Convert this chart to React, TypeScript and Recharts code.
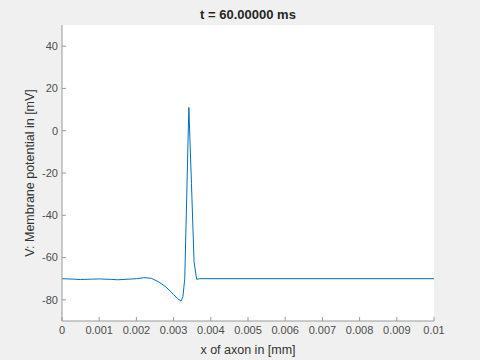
import { CartesianGrid, Line, LineChart, XAxis, YAxis } from "recharts";

// membrane potential along the axon at t = 60 ms
const xPos = [
  0, 0.0003, 0.0005, 0.0008, 0.001, 0.0013, 0.0015, 0.0018, 0.002, 0.0022,
  0.0024, 0.0026, 0.0028, 0.003, 0.0031, 0.0032, 0.00325, 0.0033, 0.00341,
  0.00348, 0.00355, 0.00362, 0.0037, 0.005, 0.0075, 0.01,
];
const vVals = [
  -70, -70.2, -70.4, -70.2, -70.1, -70.3, -70.5, -70.2, -70, -69.5,
  -69.8, -71.5, -74, -77.5, -79.3, -80.6, -78.5, -70, 11,
  -25, -62, -70.3, -70, -70, -70, -70,
];
const xTicks = [0, 0.001, 0.002, 0.003, 0.004, 0.005, 0.006, 0.007, 0.008, 0.009, 0.01];
const yTicks = [-80, -60, -40, -20, 0, 20, 40];

const data = xPos.map((x, i) => ({ x, v: vVals[i] }));

const font = '"Liberation Sans", Arial, sans-serif';
const tickStyle = { fontSize: 11, fill: "#4d4d4d", fontFamily: font };
const axisColor = "#999";

export default function App() {
  return (
    <div
      style={{
        position: "fixed",
        left: 0,
        top: 0,
        width: 480,
        height: 360,
        background: "#f0f0f0",
        fontFamily: font,
      }}
    >
      <div
        style={{
          position: "absolute",
          left: 62,
          width: 372,
          top: 7,
          textAlign: "center",
          fontSize: 13,
          fontWeight: "bold",
          color: "#262626",
        }}
      >
        t = 60.00000 ms
      </div>
      <LineChart
        width={480}
        height={360}
        data={data}
        margin={{ top: 25, right: 46, bottom: 0, left: 0 }}
      >
        <CartesianGrid fill="#fff" horizontal={false} vertical={false} />
        <XAxis
          xAxisId="b"
          dataKey="x"
          type="number"
          domain={[0, 0.01]}
          ticks={xTicks}
          allowDataOverflow
          height={39}
          tickSize={-4}
          tickMargin={9}
          tick={tickStyle}
          stroke={axisColor}
          tickFormatter={(v) => String(v)}
          label={{
            value: "x of axon in [mm]",
            position: "insideBottom",
            offset: 6,
            style: { fontSize: 12.5, fill: "#333", fontFamily: font },
          }}
        />
        <XAxis
          xAxisId="t"
          dataKey="x"
          type="number"
          orientation="top"
          domain={[0, 0.01]}
          ticks={xTicks}
          allowDataOverflow
          height={0}
          tickSize={-4}
          stroke={axisColor}
          tickFormatter={() => ""}
        />
        <YAxis
          yAxisId="l"
          type="number"
          domain={[-90, 50]}
          ticks={yTicks}
          allowDataOverflow
          width={62}
          tickSize={-4}
          tickMargin={8}
          tick={tickStyle}
          stroke={axisColor}
          label={{
            value: "V: Membrane potential in [mV]",
            angle: -90,
            position: "insideLeft",
            offset: 30,
            style: { fontSize: 12.5, fill: "#333", fontFamily: font, textAnchor: "middle" },
          }}
        />
        <YAxis
          yAxisId="r"
          type="number"
          orientation="right"
          domain={[-90, 50]}
          ticks={yTicks}
          allowDataOverflow
          width={0}
          tickSize={-4}
          stroke={axisColor}
          tickFormatter={() => ""}
        />
        <Line
          xAxisId="b"
          yAxisId="l"
          type="linear"
          dataKey="v"
          stroke="#0072BD"
          strokeWidth={1}
          dot={false}
          isAnimationActive={false}
        />
      </LineChart>
    </div>
  );
}
